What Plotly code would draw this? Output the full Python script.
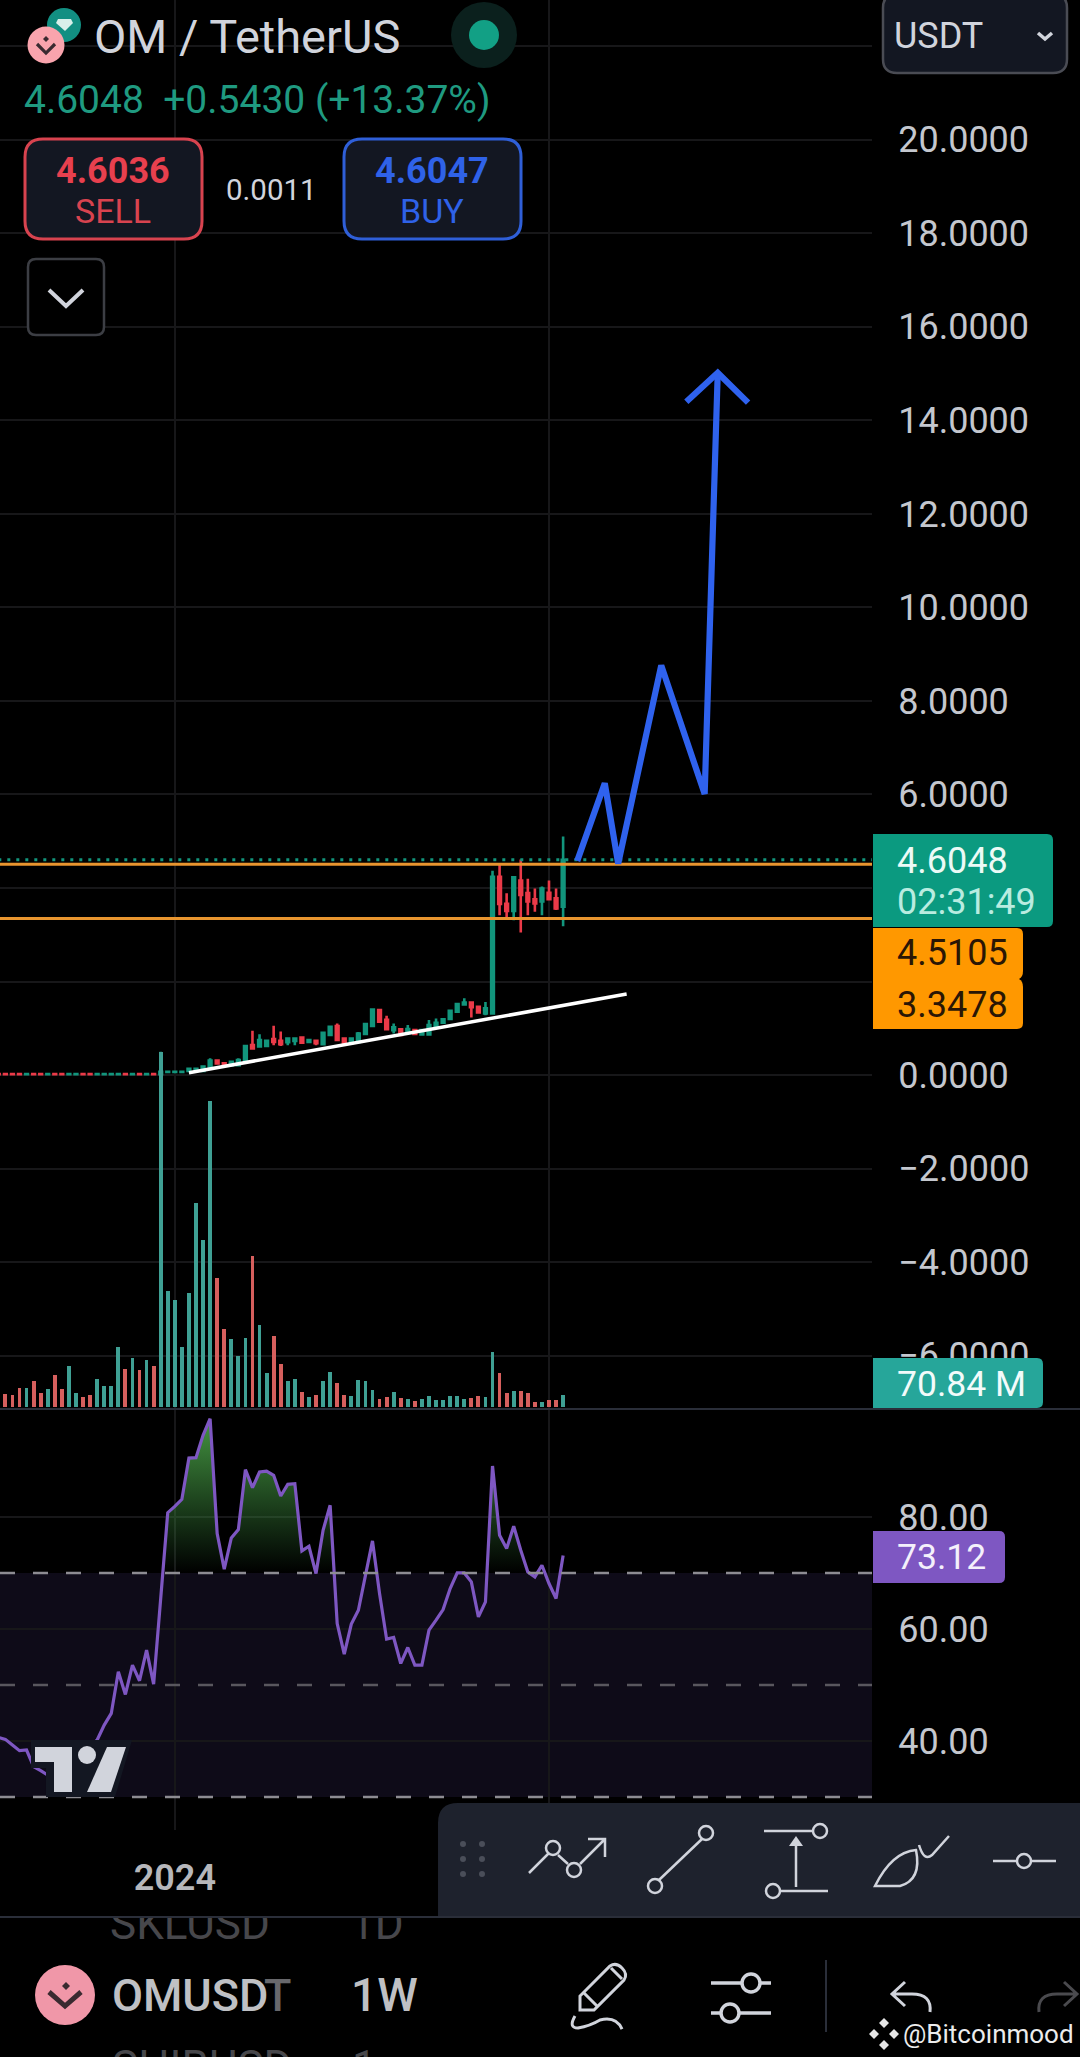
import numpy as np
import plotly.graph_objects as go
from plotly.subplots import make_subplots

W, H = 1080, 2057
PANE_RIGHT = 872
PANE_SPLIT = 1408
PANE_BOTTOM = 1830

# weekly candles, one entry per bar
opens = [.024, .024, .024, .024, .016, .024, .024, .016, .024, .024, .016, .016, .024, .024, .016, .016, .016, .016, .024, .016, .024, .016, .024,
         .02, .065, .065, .065, .09, .09, .09, .18, .31, .25, .21, .21, .285, .64, .61, .62, .77, .73, .705, .73, .80, .71, .73, .66, .855, 1.05, .78,
         .68, .71, .88, 1.05, 1.39, 1.18, .96, .98, .94, .96, .87, .87, 1.03, 1.12, 1.20, 1.355, 1.51, 1.55, 1.46, 1.32, 1.32, 4.24, 3.66, 3.51,
         4.16, 3.89, 3.76, 3.71, 3.90, 3.78, 3.60]
closes = [.016, .016, .016, .016, .024, .016, .016, .024, .016, .016, .024, .024, .016, .016, .024, .024, .024, .024, .016, .024, .016, .024, .016,
          .07, .072, .072, .072, .135, .135, .18, .31, .25, .21, .285, .32, .62, .57, .75, .73, .71, .66, .78, .78, .69, .75, .68, .905, 1.03, .75, .66,
          .78, .89, 1.09, 1.40, 1.14, .98, 1.02, .855, .985, .88, .96, 1.07, 1.12, 1.19, 1.375, 1.52, 1.55, 1.45, 1.34, 1.425, 4.24, 3.66, 3.51, 4.23,
          3.85, 3.71, 3.67, 3.99, 3.76, 3.565, 4.6048]
highs = [.024, .024, .024, .024, .024, .024, .024, .024, .024, .024, .024, .024, .024, .024, .024, .024, .024, .024, .024, .024, .024, .024, .024,
         .50, .072, .072, .072, .14, .14, .18, .36, .32, .25, .285, .36, .62, .95, .87, .75, 1.055, .93, .79, .80, .82, .76, .76, .92, 1.05, 1.105, .79,
         .80, .92, 1.12, 1.42, 1.40, 1.27, 1.105, 1.0, 1.07, .97, .98, 1.18, 1.21, 1.21, 1.39, 1.54, 1.64, 1.57, 1.48, 1.56, 4.37, 4.53, 3.89, 4.25,
         4.61, 4.20, 3.99, 4.03, 4.16, 3.99, 5.10]
lows = [.016, .016, .016, .016, .016, .016, .016, .016, .016, .016, .016, .016, .016, .016, .016, .016, .016, .016, .016, .016, .016, .016, .016,
        .02, .065, .065, .065, .09, .09, .09, .18, .25, .21, .21, .21, .285, .55, .60, .60, .64, .62, .64, .64, .68, .70, .64, .66, .85, .75, .65,
        .66, .70, .86, 1.04, 1.12, .97, .89, .85, .855, .87, .86, .86, 1.02, 1.11, 1.19, 1.34, 1.50, 1.23, 1.33, 1.28, 1.30, 3.42, 3.35, 3.31,
        3.05, 3.42, 3.49, 3.42, 3.74, 3.53, 3.18]

# volume in millions
volumes = [329, 77, 71, 111, 111, 149, 82, 105, 186, 105, 236, 80, 57, 71, 161, 123, 123, 345, 220, 283, 214, 272, 237,
           2040, 666, 617, 345, 657, 1172, 961, 1758, 741, 450, 391, 295, 398, 868, 471, 195, 408, 249, 149, 161, 86, 57, 71, 149, 201, 138, 71,
           63, 157, 149, 100, 46, 57, 86, 54, 46, 34, 46, 63, 40, 40, 63, 63, 46, 54, 63, 57, 316, 195, 80, 92, 92, 80, 29, 29, 40, 40, 70.84]

rsi = [40.64, 40.29, 39.27, 38.26, 38.38, 35.41, 34.7, 33.92, 34.22, 34.8, 35.41, 36.3, 37.79, 38.98, 40.17, 42.84, 44.92, 52.35, 48.31, 53.54, 50.75, 56.22, 50.15,
       65.43, 80.77, 81.9, 83.15, 90.52, 90.58, 94.57, 97.54, 77.03, 70.67, 76.25, 77.74, 88.44, 85.23, 88.03, 88.2, 87.43, 83.75, 85.83, 85.95, 73.94, 74.77, 69.89,
       77.62, 82.08, 60.97, 55.5, 60.86, 63.35, 69.3, 75.72, 66.33, 58.18, 58.48, 53.84, 56.69, 53.54, 53.54, 59.79, 61.57, 63.47, 67.22, 70.01, 70.01, 68.41, 62.16,
       64.84, 89.1, 76.73, 74.35, 78.34, 74.05, 70.19, 69.3, 71.38, 68.11, 65.43, 73.12]

# hand drawn lines on the chart
trend_x = [27, 89]
trend_y = [.05, 1.733]
arrow_x = [82.0, 85.9, 87.8, 93.9, 100.05, 101.9]
arrow_y = [4.58, 6.24, 4.52, 8.76, 6.01, 15.02]
head_x = [97.45, 101.9, 106.2]
head_y = [14.40, 15.02, 14.38]

last_price = 4.6048
level_high = 4.5105
level_low = 3.3478
price_ticks = list(range(-6, 23, 2))
rsi_ticks = [40, 60, 80]
year_ticks = [25, 78]
year_labels = ["2024", ""]

GREEN = "#12957c"
RED = "#ea3a48"
VOL_GREEN = "#3fa094"
VOL_RED = "#d65f5d"
GRID = "#171719"
TEXT = "#c4c7ce"
LIGHT = "#d1d4dc"
PANEL = "#131722"
BLUE = "#2f62ee"
FONT = "Roboto"

bars = list(range(len(closes)))
vol_colors = [VOL_GREEN if c >= o else VOL_RED for o, c in zip(opens, closes)]


def fx(px):
    return px / W


def fy(py):
    return 1 - py / H


def path(d):
    # svg path written in page pixels, turned into paper coordinates
    out, is_x = [], True
    for tok in d.split():
        if tok.isalpha():
            out.append(tok)
        else:
            out.append(f"{fx(float(tok)):.5f}" if is_x else f"{fy(float(tok)):.5f}")
            is_x = not is_x
    return " ".join(out)


def round_rect(x0, y0, x1, y1, r):
    return (f"M {x0 + r} {y0} L {x1 - r} {y0} Q {x1} {y0} {x1} {y0 + r} L {x1} {y1 - r} Q {x1} {y1} {x1 - r} {y1} "
            f"L {x0 + r} {y1} Q {x0} {y1} {x0} {y1 - r} L {x0} {y0 + r} Q {x0} {y0} {x0 + r} {y0} Z")


shapes = []


def add_path(d, fill="rgba(0,0,0,0)", line="rgba(0,0,0,0)", width=0):
    shapes.append(dict(type="path", xref="paper", yref="paper", path=path(d), fillcolor=fill,
                       line=dict(color=line, width=width)))


def add_circle(cx, cy, r, fill="rgba(0,0,0,0)", line="rgba(0,0,0,0)", width=0):
    shapes.append(dict(type="circle", xref="paper", yref="paper", x0=fx(cx - r), x1=fx(cx + r),
                       y0=fy(cy + r), y1=fy(cy - r), fillcolor=fill, line=dict(color=line, width=width)))


annotations = []


def add_text(x, y, text, size, color=TEXT, anchor="left", weight=400):
    annotations.append(dict(x=fx(x), y=fy(y), xref="paper", yref="paper", text=text, showarrow=False,
                            xanchor=anchor, yanchor="middle", font=dict(family=FONT, size=size, color=color, weight=weight)))


fig = make_subplots(rows=2, cols=1, shared_xaxes=True, specs=[[{"secondary_y": True}], [{}]], vertical_spacing=0.01)

# volume goes first so the candles sit on top of it
fig.add_trace(go.Bar(x=bars, y=volumes, marker_color=vol_colors, marker_line_width=0, width=0.54), row=1, col=1, secondary_y=True)
fig.add_trace(go.Candlestick(x=bars, open=opens, high=highs, low=lows, close=closes,
                             increasing=dict(line=dict(color=GREEN, width=2.6), fillcolor=GREEN),
                             decreasing=dict(line=dict(color=RED, width=2.6), fillcolor=RED),
                             whiskerwidth=0), row=1, col=1, secondary_y=False)
fig.add_trace(go.Scatter(x=[bars[0], 123.75], y=[last_price, last_price], mode="lines",
                         line=dict(color=GREEN, width=3, dash="3px,6px")), row=1, col=1, secondary_y=False)
for level in (level_high, level_low):
    fig.add_trace(go.Scatter(x=[0.24, 123.75], y=[level, level], mode="lines", line=dict(color="#e8952f", width=3)),
                  row=1, col=1, secondary_y=False)
fig.add_trace(go.Scatter(x=trend_x, y=trend_y, mode="lines", line=dict(color="#ffffff", width=3.6)), row=1, col=1, secondary_y=False)
fig.add_trace(go.Scatter(x=arrow_x, y=arrow_y, mode="lines", line=dict(color=BLUE, width=6.2)), row=1, col=1, secondary_y=False)
fig.add_trace(go.Scatter(x=head_x, y=head_y, mode="lines", line=dict(color=BLUE, width=6.2)), row=1, col=1, secondary_y=False)

# overbought fill only above the 70 level, so the segments get cut where they cross it
fill_x, fill_y = [], []
for i, v in enumerate(rsi):
    if i and (rsi[i - 1] - 70) * (v - 70) < 0:
        fill_x.append(i - 1 + (70 - rsi[i - 1]) / (v - rsi[i - 1]))
        fill_y.append(70)
    fill_x.append(i)
    fill_y.append(max(v, 70))

fig.add_trace(go.Scatter(x=fill_x, y=np.full(len(fill_x), 70.0), mode="lines", line=dict(width=0)), row=2, col=1)
fig.add_trace(go.Scatter(x=fill_x, y=fill_y, mode="lines", line=dict(width=0), fill="tonexty",
                         fillgradient=dict(type="vertical", start=70, stop=97.5,
                                           colorscale=[[0, "rgba(58,140,62,0)"], [1, "rgba(70,150,66,1)"]])), row=2, col=1)
fig.add_trace(go.Scatter(x=bars, y=rsi, mode="lines", line=dict(color="#7e57c2", width=3.2)), row=2, col=1)

# text that has to be cut off by the separator under the toolbar lives in its own clipped axes
fig.add_trace(go.Scatter(x=[110, 350], y=[1928, 1928], mode="text", text=["SKLUSD", "1D"], textposition="middle right",
                         textfont=dict(family=FONT, size=44, color="#47474b"), xaxis="x3", yaxis="y4"))

pane_x = [0, PANE_RIGHT / W]
fig.update_xaxes(domain=pane_x, range=[0.24, 123.75], showgrid=True, gridcolor=GRID, gridwidth=1.5, zeroline=False,
                 tickmode="array", tickvals=year_ticks, ticktext=year_labels, rangeslider_visible=False, showline=False)
fig.update_xaxes(showticklabels=False, ticks="", row=1, col=1)
fig.update_xaxes(showticklabels=True, ticks="outside", ticklen=16, tickcolor="rgba(0,0,0,0)",
                 tickfont=dict(family=FONT, size=36, color="#b6b7bb", weight=600), row=2, col=1)
fig.update_layout(
    xaxis=dict(anchor="y"),
    yaxis=dict(domain=[1 - PANE_SPLIT / H, 1], range=[-7.12, 22.99], side="right", tickmode="array", tickvals=price_ticks,
               tickformat=".4f", gridcolor=GRID, gridwidth=1.5, zeroline=False, showline=False, ticks="outside", ticklen=18,
               tickcolor="rgba(0,0,0,0)", tickfont=dict(family=FONT, size=36, color=TEXT), anchor="x"),
    yaxis2=dict(domain=[1 - PANE_SPLIT / H, 1], range=[-6, 8090], visible=False, overlaying="y", showgrid=False),
    yaxis3=dict(domain=[1 - PANE_BOTTOM / H, 1 - (PANE_SPLIT + 2) / H], range=[24.1, 99.1], side="right", tickmode="array",
                tickvals=rsi_ticks, tickformat=".2f", gridcolor=GRID, gridwidth=1.5, zeroline=False, showline=False, ticks="outside",
                ticklen=18, tickcolor="rgba(0,0,0,0)", tickfont=dict(family=FONT, size=36, color=TEXT)),
    xaxis2=dict(anchor="y3"),
    xaxis3=dict(domain=[0, 1], range=[0, W], visible=False, anchor="y4", showgrid=False),
    yaxis4=dict(domain=[0, (H - 1917) / H], range=[H, 1917], visible=False, anchor="x3", showgrid=False),
)

# rsi band and its dashed limits
shapes.append(dict(type="rect", xref="x2 domain", yref="y3", x0=0, x1=1, y0=30, y1=70, fillcolor="#0e0b18",
                   line=dict(width=0), layer="below"))
for level, col in ((70, "#8d8c92"), (50, "#59575e"), (30, "#8d8c92")):
    shapes.append(dict(type="line", xref="x2 domain", yref="y3", x0=0, x1=1, y0=level, y1=level,
                       line=dict(color=col, width=2.6, dash="15px,18px")))

# pane separator
add_path(f"M 0 {PANE_SPLIT + 1} L {W} {PANE_SPLIT + 1}", line="#2a2e39", width=2)

# tradingview logo
add_path("M 31 1740 L 132 1740 L 115 1797 L 46 1797 L 46 1768 L 31 1768 Z", fill="#131722")
add_path("M 35 1747 L 72 1747 L 72 1792 L 54 1792 L 54 1762 L 35 1762 Z", fill=LIGHT)
add_circle(87, 1755, 9, fill=LIGHT)
add_path("M 107 1747 L 126 1747 L 111 1792 L 87 1792 Z", fill=LIGHT)

# header
add_circle(64, 25, 17, fill="#128f82")
add_path("M 58 19 L 71 19 L 73 23 L 65 31 L 56 23 Z", fill="#d8efea")
add_circle(46, 45, 18.5, fill="#f9a4ad")
add_path("M 37 44 L 46 53 L 55 44", line="#3a2a30", width=3.2)
add_path("M 46 36 L 49 39 L 46 42 L 43 39 Z", fill="#3a2a30")
add_text(92, 36, "OM / TetherUS", 47, LIGHT)
add_circle(484, 35, 33, fill="#0b201d")
add_circle(484, 35, 15, fill="#12a085")
add_text(22, 100, "4.6048&nbsp;&nbsp;+0.5430 (+13.37%)", 39, "#1f9a80")

add_path(round_rect(25, 139, 202, 239, 18), fill=PANEL, line="#d8434f", width=3)
add_text(113, 171, "4.6036", 36, "#e8404e", "center", 700)
add_text(113, 211, "SELL", 34, "#d8434f", "center")
add_text(271, 190, "0.0011", 29.5, LIGHT, "center")
add_path(round_rect(344, 139, 521, 239, 18), fill=PANEL, line="#2f5fd8", width=3)
add_text(432, 171, "4.6047", 36, "#2f62e8", "center", 700)
add_text(432, 211, "BUY", 34, "#2f62e8", "center")
add_path(round_rect(28, 259, 104, 335, 8), fill="#000000", line="#3c3e44", width=2.5)
add_path("M 49 290 L 66 306 L 83 290", line=LIGHT, width=4)

add_path(round_rect(883, -6, 1067, 73, 14), fill=PANEL, line="#4a4c54", width=2.5)
add_text(892, 36, "USDT", 36, LIGHT)
add_path("M 1038 33 L 1045 39 L 1052 33", line=LIGHT, width=3.5)

# price tags
add_path("M 873 834 L 1047 834 Q 1053 834 1053 840 L 1053 921 Q 1053 927 1047 927 L 873 927 Z", fill="#0b9a80")
add_text(895, 861, "4.6048", 36, "#ecfaf6")
add_text(895, 902, "02:31:49", 36, "#b9ece0")
add_path("M 873 928 L 1017 928 Q 1023 928 1023 934 L 1023 971 Q 1023 977 1019 979 L 873 979 Z", fill="#ff9800")
add_text(895, 953, "4.5105", 36, "#2a1605")
add_path("M 873 979 L 1019 979 Q 1023 981 1023 987 L 1023 1023 Q 1023 1029 1017 1029 L 873 1029 Z", fill="#ff9800")
add_text(895, 1005, "3.3478", 36, "#2a1605")
add_path("M 873 1358 L 1037 1358 Q 1043 1358 1043 1364 L 1043 1402 Q 1043 1408 1037 1408 L 873 1408 Z", fill="#26a69a")
add_text(895, 1384, "70.84 M", 35.5, "#f2fbfa")
add_path("M 873 1531 L 999 1531 Q 1005 1531 1005 1537 L 1005 1577 Q 1005 1583 999 1583 L 873 1583 Z", fill="#7e57c2")
add_text(895, 1557, "73.12", 35.5, "#f4f0fb")

# drawing toolbar
add_path(f"M 458 1803 L {W} 1803 L {W} 1917 L 438 1917 L 438 1823 Q 438 1803 458 1803 Z", fill="#1e222d")
for gx in (463, 482):
    for gy in (1844, 1859, 1874):
        add_circle(gx, gy, 3, fill="#4a4e59")
add_path("M 529 1873 L 549 1853 M 558 1855 L 568 1864 M 580 1864 L 605 1839 M 588 1839 L 605 1839 L 605 1857", line=LIGHT, width=2.5)
add_circle(553, 1848, 7, line=LIGHT, width=2.5)
add_circle(574, 1870, 7, line=LIGHT, width=2.5)
add_path("M 659 1880 L 702 1839", line=LIGHT, width=2.5)
add_circle(655, 1886, 7, line=LIGHT, width=2.5)
add_circle(706, 1833, 7, line=LIGHT, width=2.5)
add_path("M 764 1831 L 813 1831 M 780 1891 L 828 1891 M 796 1887 L 796 1840", line=LIGHT, width=2.5)
add_path("M 789 1846 L 796 1836 L 803 1846 Z", fill=LIGHT)
add_circle(820, 1831, 7, line=LIGHT, width=2.5)
add_circle(773, 1891, 7, line=LIGHT, width=2.5)
add_path("M 875 1886 L 900 1886 Q 922 1880 916 1850 Q 892 1852 875 1886 Z", line=LIGHT, width=2.5)
add_path("M 919 1845 Q 924 1862 932 1855 L 949 1836", line=LIGHT, width=2.5)
add_path("M 993 1861 L 1017 1861 M 1031 1861 L 1056 1861", line=LIGHT, width=2.5)
add_circle(1024, 1861, 7, line=LIGHT, width=2.5)

add_path(f"M 0 1917 L {W} 1917", line="#2a2e39", width=2)

# bottom bar
add_circle(65, 1995, 30, fill="#f097a8")
add_path("M 49 1992 L 65 2006 L 81 1992", line="#3a2a30", width=5)
add_path("M 66 1982 L 70 1986 L 66 1990 L 62 1986 Z", fill="#3a2a30")
add_text(110, 1995, "OMUSD", 45, "#bfc0c4", weight=500)
add_text(262, 1995, "T", 45, "#68686c", weight=500)
add_text(349, 1995, "1W", 46, "#bfc0c4", weight=500)
add_text(110, 2067, "SHIBUSD", 44, "#47474b")
add_text(350, 2067, "1", 44, "#47474b")

add_path("M 580 2010 L 580 1996 L 610 1966 Q 616 1962 622 1968 Q 628 1974 624 1980 L 594 2010 Z", line=LIGHT, width=3)
add_path("M 584 1993 L 597 2006 M 611 1968 L 622 1979", line=LIGHT, width=3)
add_path("M 575 2016 Q 568 2028 578 2028 Q 590 2026 600 2020 Q 616 2016 622 2029", line=LIGHT, width=3)
add_path("M 711 1983 L 742 1983 M 760 1983 L 771 1983 M 711 2013 L 721 2013 M 739 2013 L 771 2013", line=LIGHT, width=3.5)
add_circle(751, 1983, 9, line=LIGHT, width=3.5)
add_circle(730, 2013, 9, line=LIGHT, width=3.5)
add_path("M 826 1960 L 826 2032", line="#2a2e39", width=2)
add_path("M 930 2012 Q 932 1994 912 1994 L 893 1994 M 905 1982 L 892 1994 L 905 2006", line=LIGHT, width=3)
add_path("M 1039 2012 Q 1037 1994 1057 1994 L 1076 1994 M 1064 1982 L 1077 1994 L 1064 2006", line="#4a4a4e", width=3)

# watermark
for dx, dy in ((0, -11), (-10, 0), (10, 0), (0, 11)):
    add_path(f"M {884 + dx - 5} {2034 + dy} L {884 + dx} {2034 + dy - 5} L {884 + dx + 5} {2034 + dy} L {884 + dx} {2034 + dy + 5} Z", fill="#e6e6e6")
add_text(901, 2034, "@Bitcoinmood", 26, "#ececec")

fig.update_layout(
    width=W, height=H, margin=dict(l=0, r=0, t=0, b=0), autosize=False,
    paper_bgcolor="#000000", plot_bgcolor="#000000", showlegend=False, boxgap=0.45,
    shapes=shapes, annotations=annotations, bargap=0, font=dict(family=FONT),
    hovermode=False,
)

fig.write_html("out.html", config={"displayModeBar": False},
               post_script="document.body.style.margin='0';document.body.style.overflow='hidden';")
